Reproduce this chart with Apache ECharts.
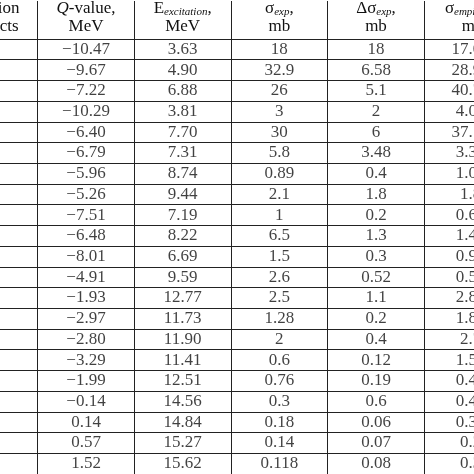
<!DOCTYPE html>
<html><head><meta charset="utf-8">
<script src="https://cdn.jsdelivr.net/npm/echarts@6/dist/echarts.min.js"></script>
<style>html,body{margin:0;padding:0;background:#fff;overflow:hidden;width:474px;height:474px}#c{width:580px;height:474px;margin-left:-59px}</style>
</head><body><div id="c"></div>
<script>
// column headers (rich text for subscripts)
var headers = ['Reaction\nproducts', '{i|Q}-value,\nMeV', 'E{s|excitation},\nMeV', 'σ{s|exp},\nmb', 'Δσ{s|exp},\nmb', 'σ{s|empirical},\nmb'];
var qValue = ['−10.47','−9.67','−7.22','−10.29','−6.40','−6.79','−5.96','−5.26','−7.51','−6.48','−8.01','−4.91','−1.93','−2.97','−2.80','−3.29','−1.99','−0.14','0.14','0.57','1.52'];
var eExc = ['3.63','4.90','6.88','3.81','7.70','7.31','8.74','9.44','7.19','8.22','6.69','9.59','12.77','11.73','11.90','11.41','12.51','14.56','14.84','15.27','15.62'];
var sigExp = ['18','32.9','26','3','30','5.8','0.89','2.1','1','6.5','1.5','2.6','2.5','1.28','2','0.6','0.76','0.3','0.18','0.14','0.118'];
var dSigExp = ['18','6.58','5.1','2','6','3.48','0.4','1.8','0.2','1.3','0.3','0.52','1.1','0.2','0.4','0.12','0.19','0.6','0.06','0.07','0.08'];
var sigEmp = ['17.04','28.91','40.72','4.02','37.15','3.36','1.04','1.8','0.62','1.41','0.94','0.51','2.86','1.86','2.7','1.53','0.42','0.42','0.36','0.2','0.3'];

var rows = qValue.map(function(v,i){return String(i)});
var cols = [qValue, eExc, sigExp, dSigExp, sigEmp];
var pts = [];
cols.forEach(function(col,c){
	col.forEach(function(v,r){
		pts.push({value:[c+1, r], label:{offset:[c==4?-2:0,0]}, txt:v});
	});
});
var font = 'Liberation Serif';
var chart = echarts.init(document.getElementById('c'));
chart.setOption({
	animation:false,
	grid:{left:0, top:38, width:580, height:437},
	xAxis:{
		type:'category', position:'top', data:headers,
		axisLine:{show:true, lineStyle:{color:'#222', width:1}},
		axisTick:{show:true, length:38, lineStyle:{color:'#222', width:1}},
		axisLabel:{interval:0, margin:3, color:'#111', fontFamily:font, fontSize:17, lineHeight:18,
			rich:{i:{fontStyle:'italic', fontFamily:font, fontSize:17, color:'#111'},
				s:{fontStyle:'italic', fontFamily:font, fontSize:11, color:'#111', verticalAlign:'bottom', padding:[4,0,0,0]}}},
		splitLine:{show:true, lineStyle:{color:'#222', width:1}}
	},
	yAxis:{
		type:'category', inverse:true, data:rows,
		axisLine:{show:false}, axisTick:{show:false}, axisLabel:{show:false},
		splitLine:{show:true, lineStyle:{color:'#222', width:1}}
	},
	series:[{
		type:'scatter', symbolSize:0, data:pts,
		label:{show:true, position:'inside', color:'#111', fontFamily:font, fontSize:17,
			formatter:function(p){return p.data.txt}}
	}]
});
</script></body></html>
